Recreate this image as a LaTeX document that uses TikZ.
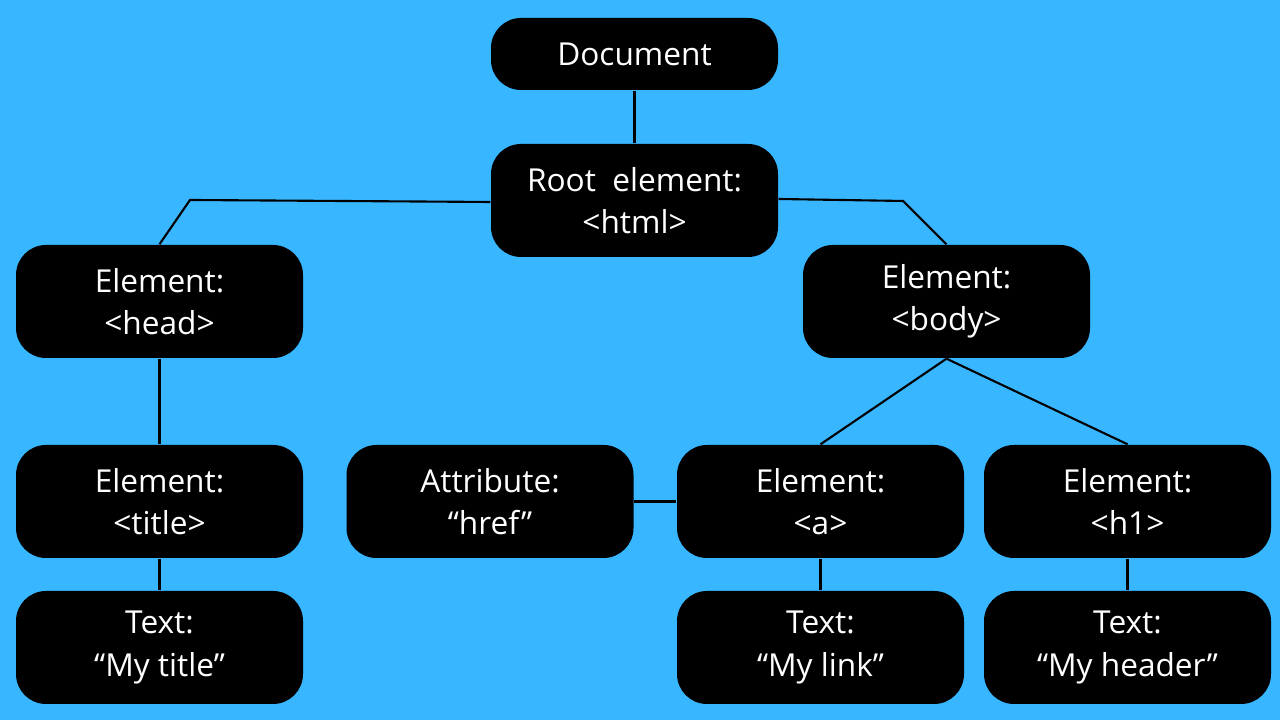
\documentclass[tikz,border=0pt]{standalone}
\usepackage{fontspec}
\setmainfont{Open Sans}
\definecolor{skyblue}{HTML}{38B6FF}
\tikzset{
  dombox/.style={fill=black, text=white, rounded corners=0.3cm,
    minimum width=2.87cm, minimum height=1.13cm, inner sep=0pt,
    align=center, font=\fontsize{9}{12}\selectfont},
  link/.style={draw=black, line width=0.6pt}
}
\begin{document}
\begin{tikzpicture}
\fill[skyblue] (0,0) rectangle (12.8,7.2);
\useasboundingbox (0,0) rectangle (12.8,7.2);
\node[dombox, minimum height=0.72cm] (doc) at (6.345,6.66){Document};
\node[dombox] (html) at (6.345,5.195){Root\ \ element:\\<html>};
\node[dombox] (head) at (1.595,4.185){Element:\\<head>};
\node[dombox] (body) at (9.465,4.185){Element:\\<body>};
\node[dombox] (title) at (1.595,2.185){Element:\\<title>};
\node[dombox] (href) at (4.9,2.185){Attribute:\\“href”};
\node[dombox] (a) at (8.205,2.185){Element:\\<a>};
\node[dombox] (h1) at (11.275,2.185){Element:\\<h1>};
\node[dombox] (titletxt) at (1.595,0.725){Text:\\“My title”};
\node[dombox] (atxt) at (8.205,0.725){Text:\\“My link”};
\node[dombox] (h1txt) at (11.275,0.725){Text:\\“My header”};
\coordinate (lbend) at (1.9,5.2);
\coordinate (rbend) at (9.03,5.19);
\draw[link] (doc) -- (html);
\draw[link] (html.west |- 0,5.18) -- (lbend) -- (head.north);
\draw[link] (html.east |- 0,5.21) -- (rbend) -- (head.north -| body.north);
\draw[link] (head) -- (title);
\draw[link] (body.south) -- (a.north);
\draw[link] (body.south) -- (h1.north);
\draw[link] (href) -- (a);
\draw[link] (title) -- (titletxt);
\draw[link] (a) -- (atxt);
\draw[link] (h1) -- (h1txt);
\end{tikzpicture}
\end{document}
